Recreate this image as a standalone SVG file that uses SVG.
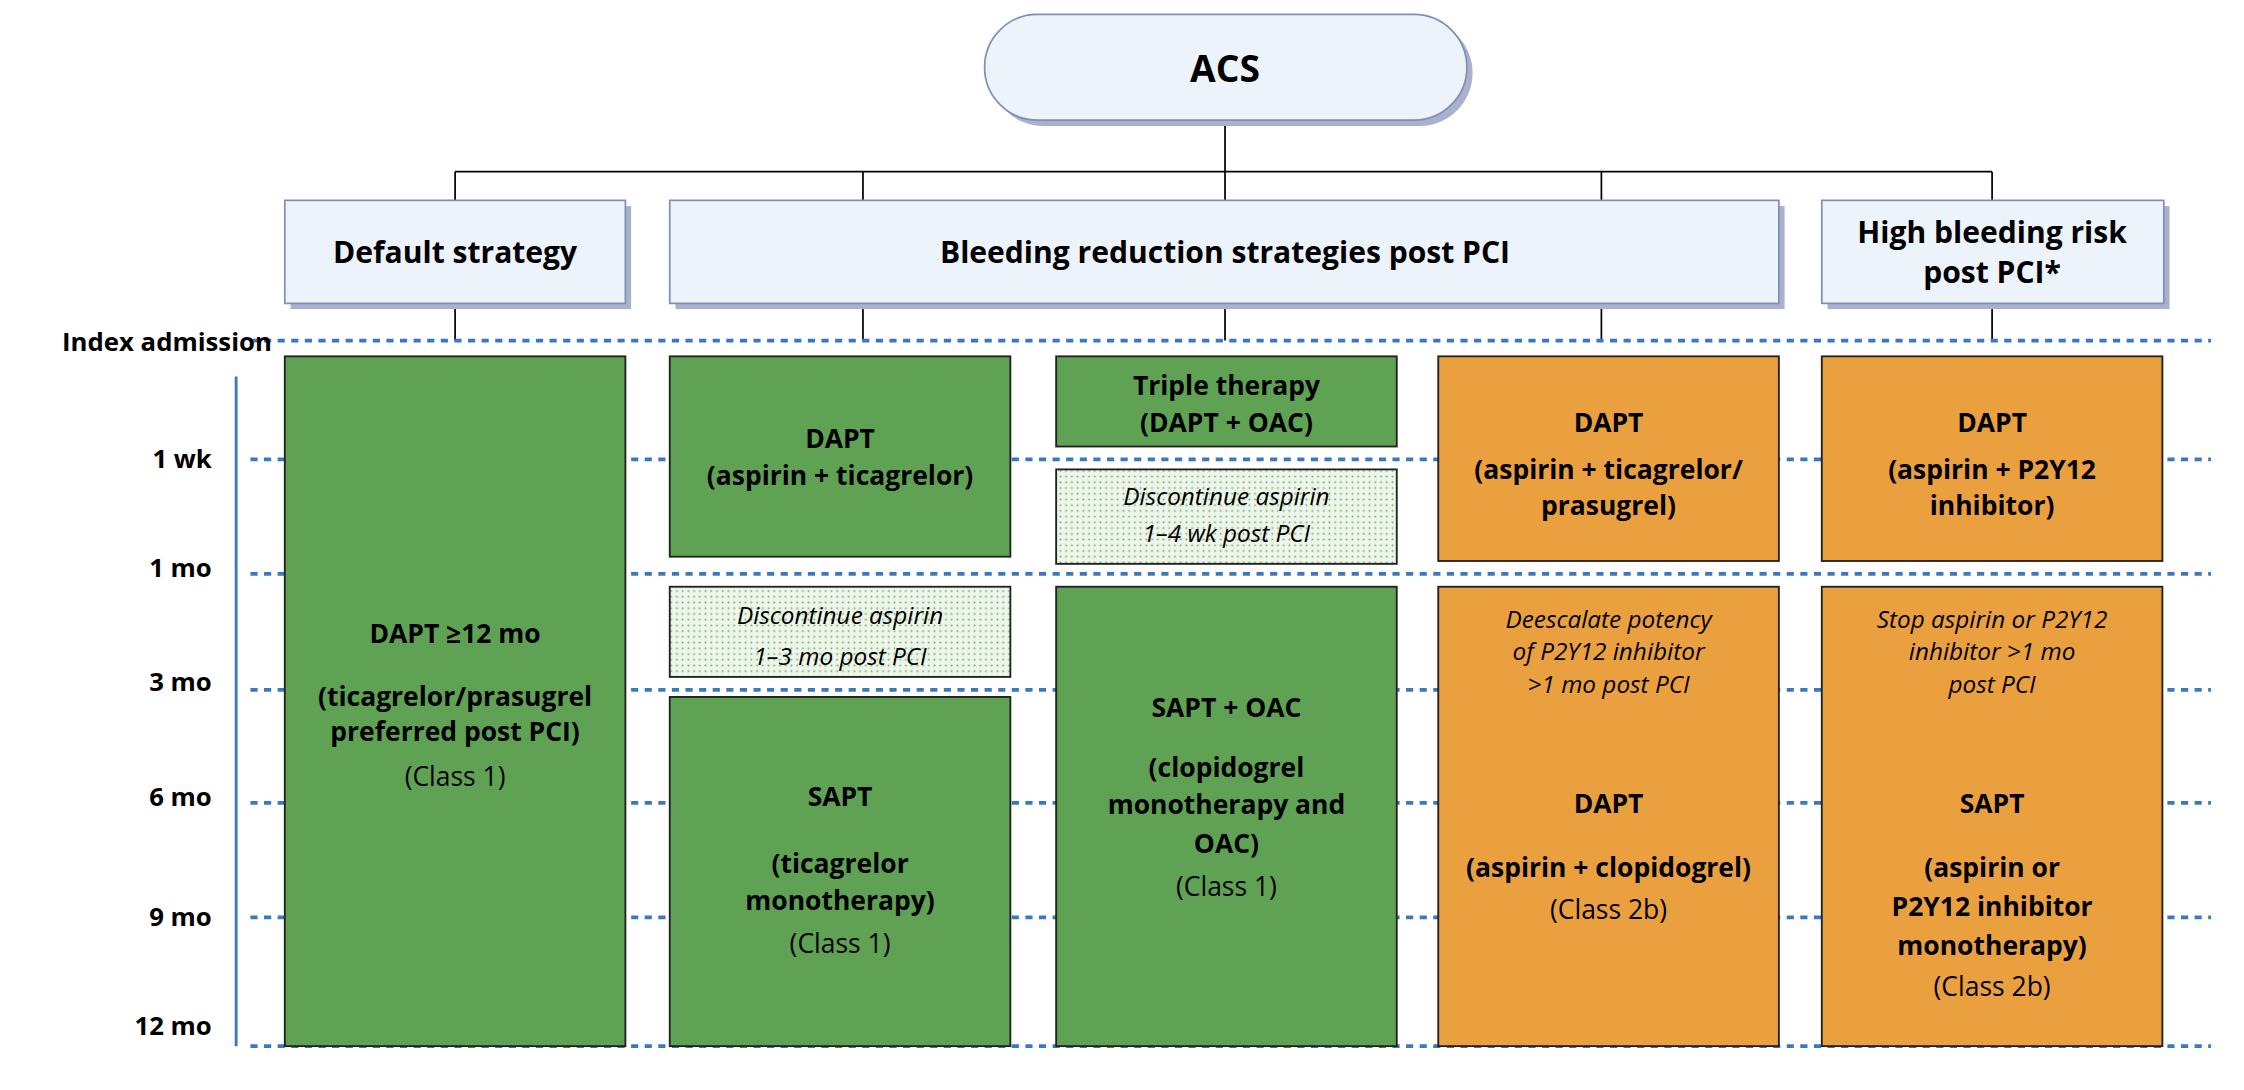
<svg xmlns="http://www.w3.org/2000/svg" width="2244" height="1090" viewBox="0 0 2244 1090">
<defs>
<style>
text{font-family:"Open Sans","Liberation Sans",sans-serif;text-anchor:middle;fill:#000}
.b{font-weight:700;font-size:18.5px}
.n{font-size:18.5px}
.i{font-style:italic;font-size:17px}
.h{font-weight:700;font-size:21px}
.lbl{font-weight:700;font-size:18px;text-anchor:end}
.dash{stroke:#3b78c2;stroke-width:2.6;stroke-dasharray:5 4.5;fill:none}
.tree{stroke:#000;stroke-width:1.2;fill:none}
.hdr{fill:#edf3fb;stroke:#7f8fba;stroke-width:1.2}
.sh{fill:#a9b1cc}
.g{fill:#60a253;stroke:#222;stroke-width:1.3}
.o{fill:#eba040;stroke:#222;stroke-width:1.3}
.d{fill:url(#dots);stroke:#222;stroke-width:1.3}
</style>
<pattern id="dots" width="4" height="4" patternUnits="userSpaceOnUse">
<rect width="4" height="4" fill="#eef6ec"/><circle cx="1" cy="1" r="0.7" fill="#6fae62"/>
</pattern>
</defs>
<rect width="2244" height="1090" fill="#fff"/>
<g transform="scale(1.4311)">
<g id="connectors">
<path class="tree" d="M856 84V120M318 120H1392M318 120V140M603 120V140M856 120V140M1119 120V140M1392 120V140"/>
<path class="tree" d="M318 212V238M603 212V238M856 212V238M1119 212V238M1392 212V238"/>
<path class="dash" d="M175 238H1545M175 321H1545M175 401H1545M175 482H1545M175 561H1545M175 641H1545M175 731H1545"/>
<path d="M165 263V731" stroke="#3b78c2" stroke-width="2" fill="none"/>
</g>
<g id="labels">
<text class="lbl" x="190" y="245">Index admission</text>
<text class="lbl" x="148" y="327">1 wk</text>
<text class="lbl" x="148" y="403">1 mo</text>
<text class="lbl" x="148" y="483">3 mo</text>
<text class="lbl" x="148" y="563">6 mo</text>
<text class="lbl" x="148" y="647">9 mo</text>
<text class="lbl" x="148" y="723">12 mo</text>
</g>
<g id="acs">
<rect x="692" y="14" width="337" height="74" rx="37" class="sh"/>
<rect x="688" y="10" width="337" height="74" rx="37" class="hdr"/>
<text x="856" y="57" style="font-weight:700;font-size:26px">ACS</text>
</g>
<g id="h-default"><rect x="203" y="144" width="238" height="72" class="sh"/><rect x="199" y="140" width="238" height="72" class="hdr"/><text class="h" x="318" y="184">Default strategy</text></g>
<g id="h-bleeding"><rect x="472" y="144" width="775" height="72" class="sh"/><rect x="468" y="140" width="775" height="72" class="hdr"/><text class="h" x="856" y="184">Bleeding reduction strategies post PCI</text></g>
<g id="h-hbr"><rect x="1277" y="144" width="239" height="72" class="sh"/><rect x="1273" y="140" width="239" height="72" class="hdr"/><text class="h" x="1392" y="170">High bleeding risk</text><text class="h" x="1392" y="198">post PCI*</text></g>

<g id="c1"><rect x="199" y="249" width="238" height="482" class="g"/>
<text class="b" x="318" y="449">DAPT ≥12 mo</text>
<text class="b" x="318" y="493">(ticagrelor/prasugrel</text>
<text class="b" x="318" y="518">preferred post PCI)</text>
<text class="n" x="318" y="549">(Class 1)</text></g>

<g id="c2a"><rect x="468" y="249" width="238" height="140" class="g"/>
<text class="b" x="587" y="313">DAPT</text><text class="b" x="587" y="339">(aspirin + ticagrelor)</text></g>
<g id="c2b"><rect x="468" y="410" width="238" height="63" class="d"/>
<text class="i" x="587" y="436">Discontinue aspirin</text><text class="i" x="587" y="465">1–3 mo post PCI</text></g>
<g id="c2c"><rect x="468" y="487" width="238" height="244" class="g"/>
<text class="b" x="587" y="563">SAPT</text><text class="b" x="587" y="610">(ticagrelor</text><text class="b" x="587" y="636">monotherapy)</text><text class="n" x="587" y="666">(Class 1)</text></g>

<g id="c3a"><rect x="738" y="249" width="238" height="63" class="g"/>
<text class="b" x="857" y="276">Triple therapy</text><text class="b" x="857" y="302">(DAPT + OAC)</text></g>
<g id="c3b"><rect x="738" y="328" width="238" height="66" class="d"/>
<text class="i" x="857" y="353">Discontinue aspirin</text><text class="i" x="857" y="379">1–4 wk post PCI</text></g>
<g id="c3c"><rect x="738" y="410" width="238" height="321" class="g"/>
<text class="b" x="857" y="501">SAPT + OAC</text><text class="b" x="857" y="543">(clopidogrel</text><text class="b" x="857" y="569">monotherapy and</text><text class="b" x="857" y="596">OAC)</text><text class="n" x="857" y="626">(Class 1)</text></g>

<g id="c4a"><rect x="1005" y="249" width="238" height="143" class="o"/>
<text class="b" x="1124" y="302">DAPT</text><text class="b" x="1124" y="335">(aspirin + ticagrelor/</text><text class="b" x="1124" y="360">prasugrel)</text></g>
<g id="c4b"><rect x="1005" y="410" width="238" height="321" class="o"/>
<text class="i" x="1124" y="439">Deescalate potency</text><text class="i" x="1124" y="461">of P2Y12 inhibitor</text><text class="i" x="1124" y="484">&gt;1 mo post PCI</text>
<text class="b" x="1124" y="568">DAPT</text><text class="b" x="1124" y="613">(aspirin + clopidogrel)</text><text class="n" x="1124" y="642">(Class 2b)</text></g>

<g id="c5a"><rect x="1273" y="249" width="238" height="143" class="o"/>
<text class="b" x="1392" y="302">DAPT</text><text class="b" x="1392" y="335">(aspirin + P2Y12</text><text class="b" x="1392" y="360">inhibitor)</text></g>
<g id="c5b"><rect x="1273" y="410" width="238" height="321" class="o"/>
<text class="i" x="1392" y="439">Stop aspirin or P2Y12</text><text class="i" x="1392" y="461">inhibitor &gt;1 mo</text><text class="i" x="1392" y="484">post PCI</text>
<text class="b" x="1392" y="568">SAPT</text><text class="b" x="1392" y="613">(aspirin or</text><text class="b" x="1392" y="640">P2Y12 inhibitor</text><text class="b" x="1392" y="667">monotherapy)</text><text class="n" x="1392" y="696">(Class 2b)</text></g>
</g>
</svg>
